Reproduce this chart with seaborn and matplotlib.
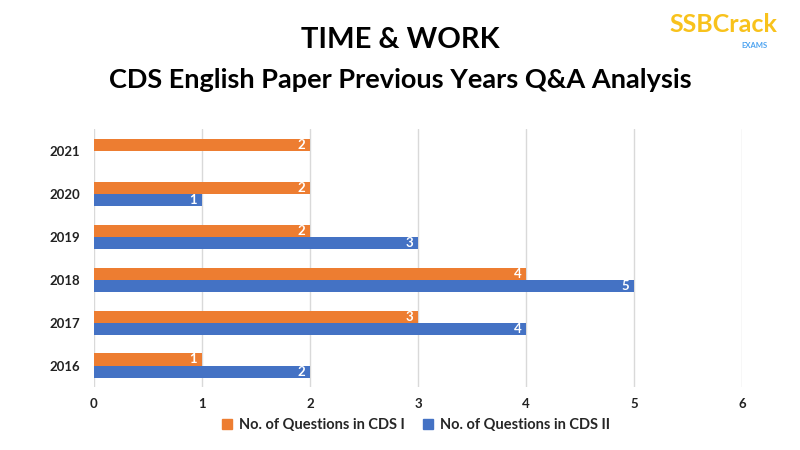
import pandas as pd
import matplotlib
matplotlib.use("Agg")
import matplotlib.pyplot as plt
import seaborn as sns

years = ["2021", "2020", "2019", "2018", "2017", "2016"]
cds1 = [2, 2, 2, 4, 3, 1]
cds2 = [0, 1, 3, 5, 4, 2]
series = ["No. of Questions in CDS I", "No. of Questions in CDS II"]
colors = ["#ED7D31", "#4472C4"]
x_ticks = [0, 1, 2, 3, 4, 5, 6]

sns.set_theme(style="white")
plt.rcParams["font.family"] = ["Lato", "DejaVu Sans"]

df = pd.DataFrame({
    "year": years * 2,
    "value": cds1 + cds2,
    "series": [series[0]] * len(years) + [series[1]] * len(years),
})

fig = plt.figure(figsize=(8, 4.5), dpi=100)
ax = fig.add_axes([0.1175, 0.14, 0.81, 0.573])

sns.barplot(data=df, x="value", y="year", hue="series", order=years,
            hue_order=series, palette=colors, orient="h", width=0.56,
            saturation=1, linewidth=0, ax=ax, legend=False)

# value labels inside bar ends
for cont in ax.containers:
    labels = [f"{int(v)}" if v > 0 else "" for v in cont.datavalues]
    ax.bar_label(cont, labels=labels, padding=-9, color="white",
                 fontsize=9.5, fontweight="bold")

ax.set_xlim(0, 6)
ax.set_xticks(x_ticks)
ax.set_xlabel("")
ax.set_ylabel("")
ax.xaxis.grid(True, color="#D9D9D9", linewidth=1)
ax.set_axisbelow(True)
for s in ax.spines.values():
    s.set_visible(False)
ax.tick_params(axis="both", length=0, labelsize=9.5)
ax.tick_params(axis="y", pad=10)
ax.tick_params(axis="x", pad=8)
for t in ax.get_xticklabels() + ax.get_yticklabels():
    t.set_fontweight("bold")
    t.set_color("#222222")

handles = [plt.Rectangle((0, 0), 1, 1, color=c) for c in colors]
fig.legend(handles, series, loc="center", bbox_to_anchor=(0.52, 0.055),
           ncol=2, frameon=False, handlelength=0.7,
           handleheight=0.7, columnspacing=1.2, handletextpad=0.5,
           prop={"weight": "bold", "size": 10.5})

fig.text(0.5, 0.91, "TIME & WORK", ha="center", va="center",
         fontsize=21, fontweight="bold", color="black")
fig.text(0.5, 0.822, "CDS English Paper Previous Years Q&A Analysis",
         ha="center", va="center", fontsize=19.5, fontweight="bold", color="black")

# logo text
fig.text(0.972, 0.945, "SSBCrack", ha="right", va="center", fontsize=18,
         fontweight="bold", color="#F8C21C")
fig.text(0.96, 0.9, "EXAMS", ha="right", va="center", fontsize=5.5,
         fontweight="bold", color="#4DA3F0")

fig.savefig("out.png", dpi=100)
